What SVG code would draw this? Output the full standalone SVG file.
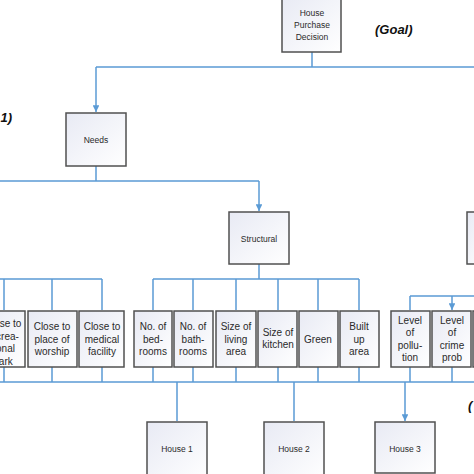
<svg xmlns="http://www.w3.org/2000/svg" width="474" height="474" viewBox="0 0 474 474">
<style>
.box{fill:url(#g);stroke:#505050;stroke-width:1.5}
.t{font-family:"Liberation Sans",Arial,sans-serif;fill:#2a2a2a;text-anchor:middle}
.s{font-size:8.5px}
.m{font-size:10px}
.lvl{font-family:"Liberation Sans",Arial,sans-serif;font-size:13px;font-weight:bold;font-style:italic;fill:#111}
.c{fill:none;stroke:#5b9bd5;stroke-width:1.5}
</style>
<defs>
<linearGradient id="g" x1="0" y1="0" x2="1" y2="1">
<stop offset="0" stop-color="#e8eaf4"/>
<stop offset="1" stop-color="#ffffff"/>
</linearGradient>
<marker id="a" viewBox="0 0 10 10" refX="10" refY="5" markerWidth="4.5" markerHeight="4.5" orient="auto" markerUnits="strokeWidth">
<path d="M0,0 L10,5 L0,10 z" fill="#5b9bd5"/>
</marker>
</defs>
<g id="connectors">
<path class="c" d="M312,52 V67 M96,67 H474"/>
<path class="c" d="M96,67 V112" marker-end="url(#a)"/>
<path class="c" d="M96,166 V181 M0,181 H259"/>
<path class="c" d="M259,181 V211" marker-end="url(#a)"/>
<path class="c" d="M259,264 V279 M153,279 H359 M0,279 H102 M410,296 H474"/>
<path class="c" d="M4,279 V310 M52,279 V310 M102,279 V310 M153,279 V310 M193,279 V310 M236,279 V310 M278,279 V310 M318,279 V310 M359,279 V310 M410,296 V310 M452,296 V310" marker-end="url(#a)"/>
<path class="c" d="M4,367 V382 M52,367 V382 M102,367 V382 M153,367 V382 M193,367 V382 M236,367 V382 M278,367 V382 M318,367 V382 M359,367 V382 M410,367 V382 M452,367 V382 M0,382 H474"/>
<path class="c" d="M177,382 V421 M294,382 V421 M405,382 V421" marker-end="url(#a)"/>
</g>
<g id="goal"><rect class="box" x="282" y="-2" width="59" height="54"/>
<text class="t s" x="312" y="16">House</text><text class="t s" x="312" y="28">Purchase</text><text class="t s" x="312" y="40">Decision</text></g>
<text class="lvl" x="375" y="34">(Goal)</text>
<text class="lvl" x="12" y="122" text-anchor="end">1)</text>
<text class="lvl" x="468" y="410">(</text>
<g id="needs"><rect class="box" x="66" y="113" width="60" height="53"/><text class="t s" x="96" y="143">Needs</text></g>
<g id="structural"><rect class="box" x="229" y="212" width="60" height="52"/><text class="t s" x="259" y="242">Structural</text></g>
<g id="right-partial"><rect class="box" x="467" y="212" width="20" height="52"/></g>
<g id="n1"><rect class="box" x="-20" y="311" width="45" height="56"/><text class="t m"><tspan x="3" y="327">Close to</tspan><tspan x="3" y="340">recrea-</tspan><tspan x="3" y="352">tional</tspan><tspan x="3" y="365">park</tspan></text></g>
<g id="n2"><rect class="box" x="28" y="311" width="49" height="56"/><text class="t m"><tspan x="52" y="330">Close to</tspan><tspan x="52" y="343">place of</tspan><tspan x="52" y="355">worship</tspan></text></g>
<g id="n3"><rect class="box" x="79" y="311" width="45" height="56"/><text class="t m"><tspan x="102" y="330">Close to</tspan><tspan x="102" y="343">medical</tspan><tspan x="102" y="355">facility</tspan></text></g>
<g id="n4"><rect class="box" x="134" y="311" width="38" height="56"/><text class="t m"><tspan x="153" y="330">No. of</tspan><tspan x="153" y="343">bed-</tspan><tspan x="153" y="355">rooms</tspan></text></g>
<g id="n5"><rect class="box" x="174" y="311" width="39" height="56"/><text class="t m"><tspan x="193" y="330">No. of</tspan><tspan x="193" y="343">bath-</tspan><tspan x="193" y="355">rooms</tspan></text></g>
<g id="n6"><rect class="box" x="216" y="311" width="40" height="56"/><text class="t m"><tspan x="236" y="330">Size of</tspan><tspan x="236" y="343">living</tspan><tspan x="236" y="355">area</tspan></text></g>
<g id="n7"><rect class="box" x="258" y="311" width="39" height="56"/><text class="t m"><tspan x="278" y="336">Size of</tspan><tspan x="278" y="348">kitchen</tspan></text></g>
<g id="n8"><rect class="box" x="299" y="311" width="39" height="56"/><text class="t m" x="318" y="343">Green</text></g>
<g id="n9"><rect class="box" x="340" y="311" width="39" height="56"/><text class="t m"><tspan x="359" y="330">Built</tspan><tspan x="359" y="343">up</tspan><tspan x="359" y="355">area</tspan></text></g>
<g id="n10"><rect class="box" x="391" y="311" width="39" height="56"/><text class="t m"><tspan x="410" y="324">Level</tspan><tspan x="410" y="336">of</tspan><tspan x="410" y="349">pollu-</tspan><tspan x="410" y="361">tion</tspan></text></g>
<g id="n11"><rect class="box" x="432" y="311" width="39" height="56"/><text class="t m"><tspan x="452" y="324">Level</tspan><tspan x="452" y="336">of</tspan><tspan x="452" y="349">crime</tspan><tspan x="452" y="361">prob</tspan></text></g>
<g id="n12"><rect class="box" x="473" y="311" width="20" height="56"/></g>
<g id="house1"><rect class="box" x="147" y="422" width="60" height="60"/><text class="t s" x="177" y="452">House 1</text></g>
<g id="house2"><rect class="box" x="264" y="422" width="60" height="60"/><text class="t s" x="294" y="452">House 2</text></g>
<g id="house3"><rect class="box" x="375" y="422" width="60" height="51"/><text class="t s" x="405" y="452">House 3</text></g>
</svg>
